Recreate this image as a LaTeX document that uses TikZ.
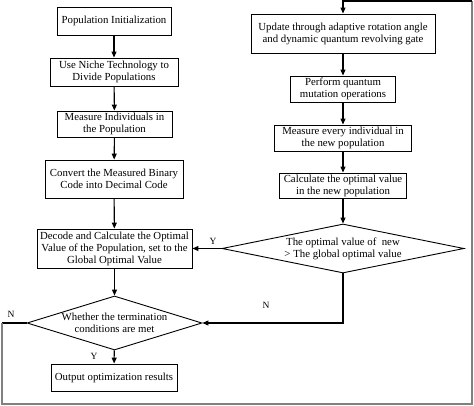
\documentclass[tikz,border=0pt]{standalone}
\usepackage{fontspec}
\setmainfont{Liberation Serif}
\usetikzlibrary{shapes.geometric,arrows.meta}
\begin{document}
\begin{tikzpicture}[x=1pt,y=-1pt,
  every node/.style={font=\fontsize{10.8}{12}\selectfont},
  procbox/.style={draw,line width=0.9pt,align=center,inner sep=0pt},
  decision/.style={draw,diamond,line width=0.9pt,align=center,inner sep=0pt},
  flow/.style={line width=1.1pt,-{Triangle[length=6pt,width=5pt]}},
  loopline/.style={line width=1.1pt},
  lbl/.style={font=\fontsize{9.5}{11}\selectfont}]
\useasboundingbox (0,0) rectangle (474,406);
% left column
\node[procbox,minimum width=114pt,minimum height=28pt] (L1) at (114,21) {Population Initialization};
\node[procbox,minimum width=128pt,minimum height=28pt] (L2) at (114,72) {Use Niche Technology to\\Divide Populations};
\node[procbox,minimum width=115pt,minimum height=26pt] (L3) at (114.5,124) {Measure Individuals in\\the Population};
\node[procbox,minimum width=138pt,minimum height=38pt] (L4) at (114,179) {Convert the Measured Binary\\Code into Decimal Code};
\node[procbox,minimum width=155pt,minimum height=39pt] (L5) at (114.5,248.5) {Decode and Calculate the Optimal\\Value of the Population, set to the\\Global Optimal Value};
\node[decision,minimum width=175pt,minimum height=54pt,aspect=3.2] (LD) at (114.5,323) {Whether the termination\\conditions are met};
\node[procbox,minimum width=126pt,minimum height=27pt] (L6) at (114,377.5) {Output optimization results};
% right column
\node[procbox,minimum width=184pt,minimum height=39pt] (R1) at (343,33.5) {Update through adaptive rotation angle\\and dynamic quantum revolving gate};
\node[procbox,minimum width=105pt,minimum height=26pt] (R2) at (343,89) {Perform quantum\\mutation operations};
\node[procbox,minimum width=137pt,minimum height=26pt] (R3) at (343,138) {Measure every individual in\\the new population};
\node[procbox,minimum width=127pt,minimum height=25pt] (R4) at (343,185.5) {Calculate the optimal value\\in the new population};
\node[decision,minimum width=242pt,minimum height=49pt,aspect=4.9] (RD) at (343,248.5) {The optimal value of~ new\\> The global optimal value};
% labels
\node[lbl] (yl) at (213,241) {Y};
\node[lbl] (nr) at (266,305) {N};
\node[lbl] (nl) at (11,314) {N};
\node[lbl] (yb) at (94,356) {Y};
% loop corners
\coordinate (c1) at (2,323);
\coordinate (c2) at (2,404);
\coordinate (c3) at (472,404);
\coordinate (c4) at (472,1);
\coordinate (c5) at (343,1);
% connectors
\draw[flow] (L1) -- (L2);
\draw[flow] (L2) -- (L3);
\draw[flow] (L3) -- (L4);
\draw[flow] (L4) -- (L5);
\draw[flow] (L5) -- (LD);
\draw[flow] (LD) -- (L6);
\draw[flow] (R1) -- (R2);
\draw[flow] (R2) -- (R3);
\draw[flow] (R3) -- (R4);
\draw[flow] (R4) -- (RD);
\draw[flow] (RD.west) -- (L5.east);
\draw[flow] (RD.south) |- (LD.east);
\draw[loopline] (LD.west) -- (c1);
\draw[loopline,gray] (c1) -- (c2) -- (c3) -- (c4);
\draw[flow] (c4) -- (c5) -- (R1.north);
\end{tikzpicture}
\end{document}
